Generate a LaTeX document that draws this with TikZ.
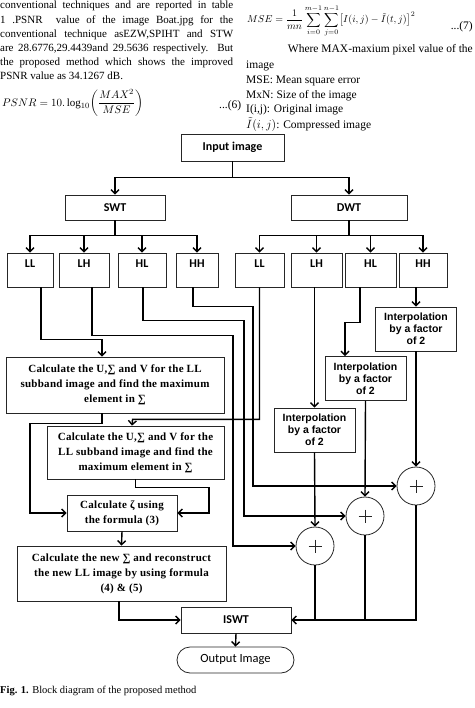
\documentclass[tikz,border=0pt]{standalone}
\usepackage{fontspec}
\usepackage{amsmath}
\usepackage{amssymb}
\setmainfont{Liberation Serif}
\newfontfamily\calfont{Carlito}
\newfontfamily\arialfont{Liberation Sans}
\newfontfamily\boxfont[LetterSpace=2.5]{Liberation Serif}
\usetikzlibrary{arrows.meta,shapes.misc}

\begin{document}
\begin{tikzpicture}[x=1pt,y=-1pt,
  every node/.style={inner sep=0pt},
  blk/.style={draw=black!85,line width=0.8pt,align=center,inner sep=1pt},
  cal/.style={blk,font=\calfont\bfseries\fontsize{12}{14}\selectfont},
  band/.style={cal,minimum height=34pt,text height=11pt,text depth=17pt},
  calc/.style={blk,font=\boxfont\bfseries\fontsize{11}{15}\selectfont},
  interp/.style={blk,font=\arialfont\bfseries\fontsize{10.5}{12}\selectfont,minimum width=81pt,minimum height=44pt},
  adder/.style={draw=black!85,line width=0.8pt,circle,minimum size=38pt,
    path picture={\draw[line width=0.6pt] (path picture bounding box.center) +(-6.5,0) -- +(6.5,0) +(0,-6.5) -- +(0,6.5);}},
  body/.style={font=\fontsize{11}{14.2}\selectfont},
  side/.style={font=\fontsize{11.5}{14}\selectfont,anchor=base west},
  conn/.style={line width=1.4pt},
  arr/.style={conn,-{Straight Barb[length=4pt,width=8pt]}},
]
\useasboundingbox (0,0) rectangle (474,708);

% text above the figure
\node[body,anchor=north west,text width=233pt,align=justify] (para) at (0,1)
  {conventional techniques and are reported in table\linebreak
   1 .PSNR\ \ value of the image Boat.jpg for the\linebreak
   conventional technique asEZW,SPIHT and STW\linebreak
   are 28.6776,29.4439and 29.5636 respectively. But\linebreak
   the proposed method which shows the improved\linebreak
   PSNR value as 34.1267 dB.};
\node[anchor=west,font=\fontsize{11}{13}\selectfont] (eqpsnr) at (2,103)
  {$\displaystyle PSNR = 10.\log_{10}\!\left(\frac{MAX^2}{MSE}\right)$};
\node[side] (eqsix) at (219,109) {...(6)};
\node[anchor=west,font=\fontsize{10}{12}\selectfont] (eqmse) at (247,21)
  {$\displaystyle MSE = \frac{1}{mn}\sum_{i=0}^{m-1}\sum_{j=0}^{n-1}\bigl[I(i,j)-\tilde{I}(t,j)\bigr]^2$};
\node[side,anchor=base east] (eqseven) at (473,30) {...(7)};
\node[side,anchor=base east] (where) at (473,53) {Where MAX-maxium pixel value of the};
\node[side] (wimage) at (246,69) {image};
\node[side] (wmse) at (246,84) {MSE: Mean square error};
\node[side] (wmxn) at (246,99) {MxN: Size of the image};
\node[side] (worig) at (246,113) {I(i,j): Original image};
\node[side] (wcomp) at (246,129) {$\tilde{I}(i,j)$: Compressed image};

% transform stage
\node[cal,minimum width=103pt,minimum height=27pt] (inp) at (232.5,147.5) {Input image};
\node[cal,minimum width=100pt,minimum height=25pt] (swt) at (115,207.5) {SWT};
\node[cal,minimum width=116pt,minimum height=25pt] (dwt) at (349,207.5) {DWT};
\draw[arr] (inp.south) -- ++(0,16) -| (swt.north);
\draw[arr] (inp.south) -- ++(0,16) -| (dwt.north);

\foreach \nm/\lb/\x/\w in {sll/LL/30/46,slh/LH/84/50,shl/HL/142/48,shh/HH/197/42,
    dll/LL/259.5/49,dlh/LH/316.5/51,dhl/HL/370.5/51,dhh/HH/423/48}
  \node[band,minimum width=\w pt] (\nm) at (\x,270) {\lb};
\foreach \b in {sll,slh,shl,shh}
  \draw[arr] (swt.south) -- ++(0,15) -| (\b.north);
\foreach \b in {dll,dlh,dhl,dhh}
  \draw[arr] (dwt.south) -- ++(0,15) -| (\b.north);

% SVD side
\node[calc,minimum width=218pt,minimum height=56pt] (box1) at (115,385)
  {Calculate the U,∑ and V for the LL\\subband image and find the maximum\\element in ∑};
\node[calc,minimum width=177pt,minimum height=53pt] (box2) at (135.5,452.5)
  {Calculate the U,∑ and V for the\\LL subband image and find the\\maximum element in ∑};
\node[calc,minimum width=110pt,minimum height=36pt] (box3) at (122,513)
  {Calculate ζ using\\the formula (3)};
\node[calc,minimum width=209pt,minimum height=55pt] (box4) at (121.5,573.5)
  {Calculate the new ∑ and reconstruct\\the new LL image by using formula\\(4) \& (5)};

% interpolation and adders
\node[interp] (ip3) at (416,329) {Interpolation\\by a factor\\of 2};
\node[interp] (ip2) at (365.5,378.5) {Interpolation\\by a factor\\of 2};
\node[interp] (ip1) at (314.5,430) {Interpolation\\by a factor\\of 2};
\node[adder] (c3) at (416,486) {};
\node[adder] (c2) at (365,516) {};
\node[adder] (c1) at (315,546) {};

\node[cal,minimum width=110pt,minimum height=26pt] (iswt) at (236,620) {ISWT};
\node[blk,rounded rectangle,font=\calfont\fontsize{12.5}{14}\selectfont,
  minimum width=119pt,minimum height=26pt] (out) at (235.5,660) {Output Image};

% connectors
\draw[arr] ([xshift=11pt]sll.south) -- ++(0,52) -| ([xshift=-13pt]box1.north);
\draw[arr] ([xshift=8pt]slh.south) |- ++(141,48) |- (c1.west);
\draw[arr] ([xshift=1pt]shl.south) |- ++(101,33) |- (c2.west);
\draw[arr] ([xshift=-4pt]shh.south) |- ++(60,19) |- (c3.west);
\draw[arr] (dll.south) |- ++(-127,132) -- ([xshift=-3.5pt]box2.north);
\draw[arr] (ip1.north |- dlh.south) -- (ip1.north);
\draw[arr] ([xshift=-10.5pt]dhl.south) -- ++(0,35) -| ([xshift=-20.5pt]ip2.north);
\draw[arr] (ip3.north |- dhh.south) -- (ip3.north);
\foreach \i in {1,2,3}
  \draw[arr] (ip\i.south) -- (c\i.north);
\draw[arr] (c3.south) |- (iswt.east);
\draw[conn] (c2.south) -- (c2.south |- iswt.east);
\draw[conn] (c1.south) -- (c1.south |- iswt.east);

\draw[arr] ([xshift=-13pt]box1.south) -- ++(0,10) -- ++(-72,0) |- (box3.west);
\draw[arr] (box2.south) -- ++(0,8) -- ++(73.5,0) |- (box3.east);
\draw[arr] (box3.south) -- (box4.north);
\draw[arr] ([xshift=-2.5pt]box4.south) |- (iswt.west);
\draw[arr] (iswt.south) -- (out.north);

\node[anchor=base west,font=\fontsize{10.5}{12}\selectfont] (caption) at (0,693)
  {\textbf{Fig. 1.} Block diagram of the proposed method};
\end{tikzpicture}
\end{document}
